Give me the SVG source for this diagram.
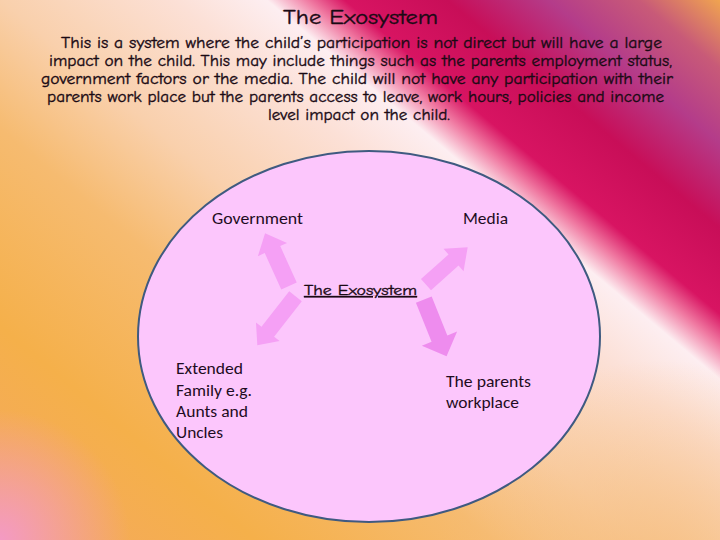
<svg xmlns="http://www.w3.org/2000/svg" width="720" height="540" viewBox="0 0 720 540">
  <defs>
    <linearGradient id="bg" gradientUnits="userSpaceOnUse" x1="0" y1="540" x2="562.4" y2="-131.9">
      <stop offset="0" stop-color="#f4a860"/>
      <stop offset="0.187" stop-color="#f5b04a"/>
      <stop offset="0.36" stop-color="#f6bb70"/>
      <stop offset="0.473" stop-color="#f9d0ac"/>
      <stop offset="0.6" stop-color="#fce0d6"/>
      <stop offset="0.668" stop-color="#fdeef1"/>
      <stop offset="0.698" stop-color="#f07aa2"/>
      <stop offset="0.725" stop-color="#d81462"/>
      <stop offset="0.8" stop-color="#c80e58"/>
      <stop offset="0.875" stop-color="#b43c8a"/>
      <stop offset="0.94" stop-color="#c85a78"/>
      <stop offset="1" stop-color="#f0a450"/>
    </linearGradient>
    <radialGradient id="corner" gradientUnits="userSpaceOnUse" cx="0" cy="540" r="130">
      <stop offset="0" stop-color="#f49ac4" stop-opacity="1"/>
      <stop offset="1" stop-color="#f49ac4" stop-opacity="0"/>
    </radialGradient>
    <radialGradient id="warm" gradientUnits="userSpaceOnUse" cx="660" cy="590" r="230">
      <stop offset="0" stop-color="#f6bc78" stop-opacity="0.85"/>
      <stop offset="1" stop-color="#f6bc78" stop-opacity="0"/>
    </radialGradient>
    <style>
      .hand { font-family: "Comic Sans MS", "Comic Neue", "Open Sans", sans-serif; fill: #1a0a14; stroke: #1a0a14; stroke-width: 0.35; }
      .lbl { font-family: "Carlito", "Calibri", "Lato", sans-serif; font-size: 16px; fill: #1e0c22; }
      .arrow { fill: #f5a0f5; }
      .arrow-dark { fill: #ee8cee; }
    </style>
  </defs>

  <rect x="0" y="0" width="720" height="540" fill="url(#bg)"/>
  <rect x="0" y="380" width="160" height="160" fill="url(#corner)"/>
  <rect x="400" y="340" width="320" height="200" fill="url(#warm)"/>

  <g id="heading">
    <text class="hand" x="283" y="24" font-size="20" textLength="155" lengthAdjust="spacingAndGlyphs">The Exosystem</text>
    <text class="hand" font-size="16">
      <tspan x="61" y="48" textLength="601" lengthAdjust="spacingAndGlyphs">This is a system where the child’s participation is not direct but will have a large</tspan>
      <tspan x="49" y="66" textLength="623" lengthAdjust="spacingAndGlyphs">impact on the child. This may include things such as the parents employment status,</tspan>
      <tspan x="41" y="84" textLength="632" lengthAdjust="spacingAndGlyphs">government factors or the media. The child will not have any participation with their</tspan>
      <tspan x="47" y="102" textLength="617" lengthAdjust="spacingAndGlyphs">parents work place but the parents access to leave, work hours, policies and income</tspan>
      <tspan x="268" y="120" textLength="182" lengthAdjust="spacingAndGlyphs">level impact on the child.</tspan>
    </text>
  </g>

  <g id="exosystem-ellipse">
    <ellipse cx="369" cy="336.5" rx="231" ry="185.5" fill="#fcc6fc" stroke="#3f5a80" stroke-width="2"/>
  </g>

  <g id="connectors">
    <path class="arrow" transform="translate(289,286) rotate(-114.4)" d="M0,-8.5 H40 V-16 L58,0 L40,16 V8.5 H0 Z"/>
    <path class="arrow" transform="translate(295.5,296.3) rotate(128)" d="M0,-8 H45 V-15 L62,0 L45,15 V8 H0 Z"/>
    <path class="arrow" transform="translate(426,284.7) rotate(-41.9)" d="M0,-7.5 H37 V-15 L56,0 L37,15 V7.5 H0 Z"/>
    <path class="arrow-dark" transform="translate(423.8,299.7) rotate(68.1)" d="M0,-8.5 H42 V-19 L61,0 L42,19 V8.5 H0 Z"/>
  </g>

  <g id="center">
    <text class="hand" x="304" y="295" font-size="14" stroke-width="0.2" text-decoration="underline" textLength="113" lengthAdjust="spacingAndGlyphs">The Exosystem</text>
  </g>

  <g id="government">
    <text class="lbl" x="212" y="224" textLength="91" lengthAdjust="spacingAndGlyphs">Government</text>
  </g>

  <g id="media">
    <text class="lbl" x="463" y="224" textLength="45" lengthAdjust="spacingAndGlyphs">Media</text>
  </g>

  <g id="extended-family">
    <text class="lbl">
      <tspan x="176" y="374" textLength="67" lengthAdjust="spacingAndGlyphs">Extended</tspan>
      <tspan x="176" y="396" textLength="76" lengthAdjust="spacingAndGlyphs">Family e.g.</tspan>
      <tspan x="176" y="417" textLength="72" lengthAdjust="spacingAndGlyphs">Aunts and</tspan>
      <tspan x="176" y="438" textLength="47" lengthAdjust="spacingAndGlyphs">Uncles</tspan>
    </text>
  </g>

  <g id="parents-workplace">
    <text class="lbl">
      <tspan x="446" y="387" textLength="85" lengthAdjust="spacingAndGlyphs">The parents</tspan>
      <tspan x="446" y="408" textLength="73" lengthAdjust="spacingAndGlyphs">workplace</tspan>
    </text>
  </g>
</svg>
